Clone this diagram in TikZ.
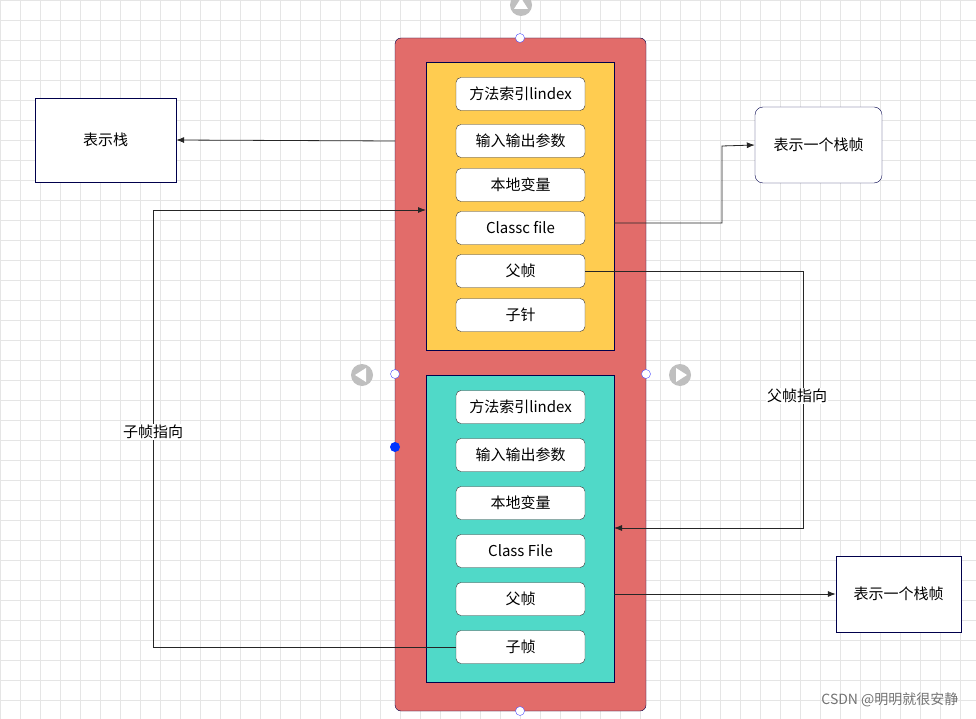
\documentclass[tikz,border=0pt]{standalone}
\usepackage{fontspec}
\setmainfont{Noto Sans CJK SC}
\usetikzlibrary{arrows.meta}
\begin{document}
\begin{tikzpicture}[x=1pt,y=-1pt,
 box/.style={draw=black!80,fill=white,rounded corners=5pt,minimum width=129pt,minimum height=33pt,inner sep=0pt,font=\fontsize{15}{17}\selectfont},
 ext/.style={draw=blue!30!black,fill=white,inner sep=0pt,font=\fontsize{15}{17}\selectfont},
 con/.style={draw=black!85,line width=0.8pt,-{Latex[length=8pt,width=6pt]}},
 lbl/.style={fill=white,inner sep=1pt,font=\fontsize{15}{17}\selectfont},
 hnd/.style={circle,draw=blue!70,fill=white,minimum size=9pt,inner sep=0pt}]
\useasboundingbox (0,0) rectangle (976,719);
\fill[white] (0,0) rectangle (976,719);
\foreach \i in {0,20,...,960} \draw[black!10,line width=0.5pt] (\i,0) -- (\i,719);
\foreach \j in {0,20,...,700} \draw[black!10,line width=0.5pt] (0,\j) -- (976,\j);
\node[draw=blue!30!black,fill={rgb,255:red,226;green,108;blue,106},rounded corners=6pt,minimum width=251pt,minimum height=673pt,inner sep=0pt] (red) at (520.5,374.5) {};
\node[draw=blue!30!black,fill={rgb,255:red,255;green,204;blue,80},minimum width=188pt,minimum height=288pt,inner sep=0pt] (yel) at (520,206) {};
\node[draw=blue!30!black,fill={rgb,255:red,80;green,217;blue,200},minimum width=188pt,minimum height=307pt,inner sep=0pt] (teal) at (520,528.5) {};
\node[box] (a1) at (520.5,94) {方法索引lindex};
\node[box] (a2) at (520.5,141) {输入输出参数};
\node[box] (a3) at (520.5,185) {本地变量};
\node[box] (a4) at (520.5,228) {Classc file};
\node[box] (a5) at (520.5,271) {父帧};
\node[box] (a6) at (520.5,315) {子针};
\node[box] (b1) at (520.5,407) {方法索引lindex};
\node[box] (b2) at (520.5,455) {输入输出参数};
\node[box] (b3) at (520.5,503) {本地变量};
\node[box] (b4) at (520.5,551) {Class File};
\node[box] (b5) at (520.5,599) {父帧};
\node[box] (b6) at (520.5,647) {子帧};
\node[ext,minimum width=141pt,minimum height=84pt] (stk) at (105.5,140) {表示栈};
\node[ext,rounded corners=8pt,minimum width=127pt,minimum height=76pt] (f1) at (818.5,145) {表示一个栈帧};
\node[ext,minimum width=125pt,minimum height=76pt] (f2) at (898.5,594) {表示一个栈帧};
\coordinate (r1) at (395,141);
\draw[con] (r1) -- (stk.east);
\coordinate (y1) at (614,223);
\draw[con] (y1) -- (722,223) -- (722,146) -- (f1.west);
\coordinate (t1) at (614,594);
\draw[con] (t1) -- (f2.west);
\coordinate (y2) at (426,210);
\draw[con] (b6.west) -- (153,647) -- (153,210) -- (y2);
\node[lbl] (l1) at (153,432) {子帧指向};
\coordinate (t2) at (614,528);
\draw[con] (a5.east) -- (803,271) -- (803,528) -- (t2);
\node[lbl] (l2) at (797,396) {父帧指向};
\node[hnd] (h1) at (520,38) {};
\node[hnd] (h2) at (395,374) {};
\node[hnd] (h3) at (646,374) {};
\node[hnd] (h4) at (520,711) {};
\node[circle,fill=blue!80!cyan,minimum size=10pt,inner sep=0pt] (h5) at (395,447) {};
\node[circle,fill=black!25,minimum size=22pt,inner sep=0pt] (g1) at (362,375) {};
\fill[white] (355,375) -- (366,368) -- (366,382) -- cycle;
\node[circle,fill=black!25,minimum size=22pt,inner sep=0pt] (g2) at (680,375) {};
\fill[white] (687,375) -- (676,368) -- (676,382) -- cycle;
\node[circle,fill=black!25,minimum size=22pt,inner sep=0pt] (g3) at (521,5) {};
\fill[white] (521,-2) -- (514,9) -- (528,9) -- cycle;
\node[text=black!55,font=\fontsize{14}{16}\selectfont,anchor=east] (wm) at (962,700) {CSDN @明明就很安静};
\end{tikzpicture}
\end{document}
